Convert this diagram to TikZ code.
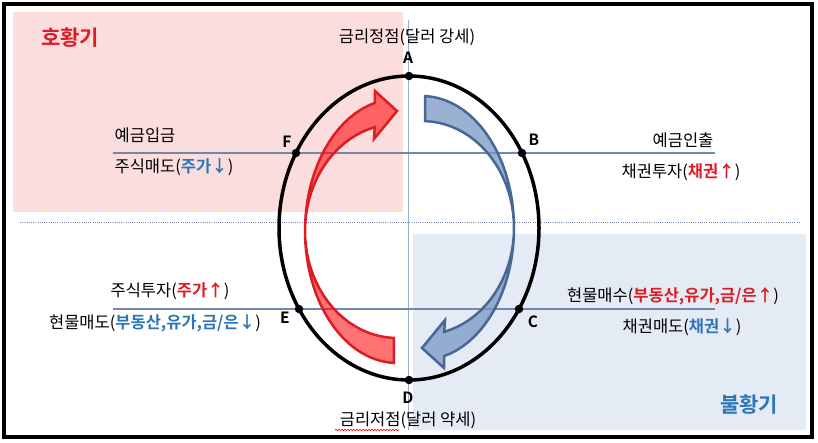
\documentclass[tikz,border=0pt]{standalone}
\usepackage{fontspec}
\setmainfont{Noto Sans CJK KR}[BoldFont={Noto Sans CJK KR Bold}]
\usetikzlibrary{decorations.pathmorphing}

\definecolor{upred}{RGB}{222,28,36}
\definecolor{downblue}{RGB}{46,117,182}
\definecolor{boompink}{RGB}{252,221,221}
\definecolor{bustblue}{RGB}{229,235,244}
\definecolor{gridline}{RGB}{112,136,172}
\definecolor{axisline}{RGB}{150,176,206}
\definecolor{arrowblue}{RGB}{71,103,148}
\definecolor{arrowfill}{RGB}{122,152,196}

\newcommand{\upword}[1]{\textcolor{upred}{\textbf{#1}}}
\newcommand{\downword}[1]{\textcolor{downblue}{\textbf{#1}}}
% curved band with head, drawn once for each half of the cycle
\newcommand{\cyclearrow}{plot[domain=92:256,samples=40] ({397+92*cos(\x)},{231+132*sin(\x)})
    -- (375,91) -- (397,111) -- (374,139)
    -- plot[domain=256:92,samples=40] ({397+92*cos(\x)},{231+107*sin(\x)}) -- cycle}

\begin{document}
\begin{tikzpicture}[x=1pt,y=-1pt]
        \tikzstyle{every node}=[inner sep=0pt, font=\fontsize{16.5}{19}\selectfont]
        \tikzstyle{cycdot}=[circle, fill=black, minimum size=8.5pt]
        \tikzstyle{letter}=[font=\fontsize{15.5}{18}\selectfont\bfseries]
        \tikzstyle{phase}=[font=\fontsize{21}{25}\selectfont\bfseries]

        \useasboundingbox (0,0) rectangle (818,442);
        \fill[white] (0,0) rectangle (818,442);

        % boom and bust areas
        \fill[boompink] (13,12) rectangle (403,212);
        \fill[bustblue] (413,234) rectangle (806,430);
        \draw[gridline, line width=1pt, dash pattern=on 1pt off 1.2pt] (20,222) -- (800,222);
        \draw[axisline, line width=1pt] (408,20) -- (408,430);

        \coordinate (l1) at (113,153);
        \coordinate (r1) at (715,153);
        \coordinate (l2) at (113,309);
        \coordinate (r2) at (715,309);
        \draw[gridline, line width=1.1pt] (l1) -- (r1);
        \draw[gridline, line width=1.1pt] (l2) -- (r2);

        \draw[line width=3.5pt] (409,228) ellipse [x radius=130, y radius=152];

        \draw[upred, line width=2.5pt, fill=red, fill opacity=0.55] \cyclearrow;
        \begin{scope}[rotate around={180:(409.5,229.5)}]
            \draw[arrowblue, line width=2.5pt, fill=arrowfill, fill opacity=0.75] \cyclearrow;
        \end{scope}

        \node[cycdot](A) at (409,76){};
        \node[cycdot](B) at (522,153){};
        \node[cycdot](C) at (519,309){};
        \node[cycdot](D) at (409,380){};
        \node[cycdot](E) at (299,309){};
        \node[cycdot](F) at (296,153){};

        \node[letter](la) at (408,58){A};
        \node[letter](lb) at (534,140){B};
        \node[letter](lc) at (533,322){C};
        \node[letter](ld) at (408,398){D};
        \node[letter](le) at (285,318){E};
        \node[letter](lf) at (287,142){F};

        \node(top) at (407,37){금리정점(달러 강세)};
        \node(bottom) at (408,420){금리저점(달러 약세)};
        \draw[red, line width=0.6pt, decorate, decoration={snake, amplitude=0.8pt, segment length=3pt}]
            (335,430) -- (399,430);

        \node[phase, upred](boom) at (70,38){호황기};
        \node[phase, downblue](bust) at (749,405){불황기};

        \node(dep) at (145,135){예금입금};
        \node(sellst) at (174,167){주식매도(\downword{주가↓})};
        \node(wd) at (683,140){예금인출};
        \node(buybd) at (681,172){채권투자(\upword{채권↑})};
        \node(buyst) at (170,291){주식투자(\upword{주가↑})};
        \node(sellre) at (155,323){현물매도(\downword{부동산,유가,금/은↓})};
        \node(buyre) at (673,296){현물매수(\upword{부동산,유가,금/은↑})};
        \node(sellbd) at (682,327){채권매도(\downword{채권↓})};

        \draw[line width=3.5pt] (4,4) rectangle (812,437);
    \end{tikzpicture}
\end{document}
